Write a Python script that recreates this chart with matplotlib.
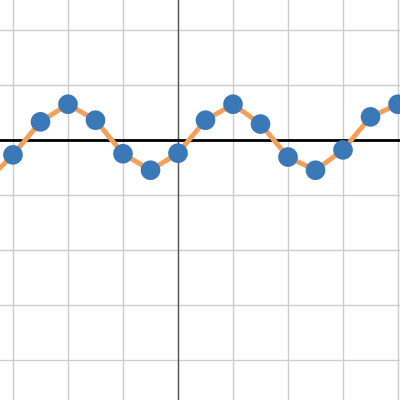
import matplotlib
matplotlib.use("Agg")
import matplotlib.pyplot as plt

xs = [-3.0, -2.5, -2.0, -1.5, -1.0, -0.5, 0.0, 0.5, 1.0, 1.5, 2.0, 2.5, 3.0, 3.5, 4.0]
ys = [-0.27, 0.33, 0.65, 0.36, -0.25, -0.55, -0.24, 0.36, 0.65, 0.29, -0.31, -0.55, -0.18, 0.42, 0.65]
line_x = [-3.25] + xs
line_y = [-0.52] + ys

fig = plt.figure(figsize=(4, 4), dpi=100)
ax = fig.add_axes([0, 0, 1, 1])
ax.set_xlim(-3.236, 4.036)
ax.set_ylim(-4.727, 2.545)
for gx in range(-3, 5):
    ax.axvline(gx, color="#cccccc", lw=1, zorder=0)
for gy in range(-4, 3):
    ax.axhline(gy, color="#cccccc", lw=1, zorder=0)
ax.axvline(0, color="#555555", lw=1, zorder=1)
ax.axhline(0, color="black", lw=2, zorder=1)
ax.plot(line_x, line_y, color="#f5a05a", lw=3.5, zorder=2, solid_capstyle="round")
ax.scatter(xs, ys, s=200, color="#3b78b8", zorder=3, edgecolors="none")
ax.axis("off")
fig.savefig("out.png")
